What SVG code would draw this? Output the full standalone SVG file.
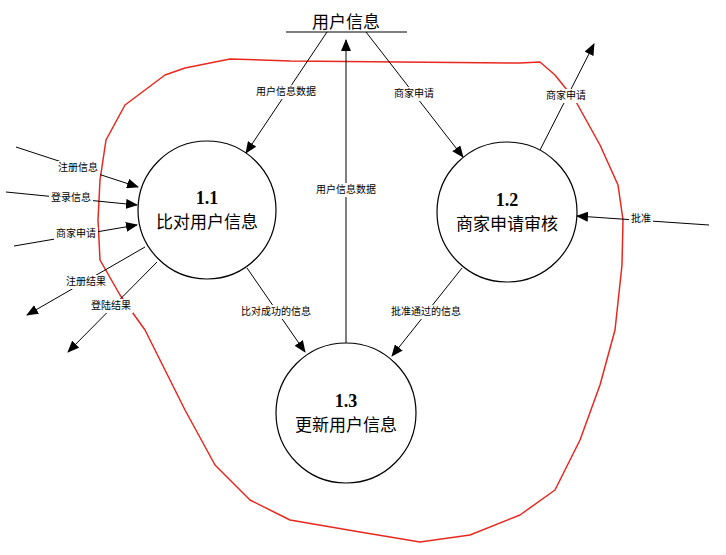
<svg xmlns="http://www.w3.org/2000/svg" width="726" height="555" viewBox="0 0 726 555">
<style>
.n{fill:#fff;stroke:#000;stroke-width:1.2}
.c line{stroke:#000;stroke-width:1}
.t{font-family:"Noto Sans CJK SC","Liberation Sans",sans-serif;font-size:17px;text-anchor:middle}
.id{font-family:"Liberation Serif",serif;font-weight:bold;font-size:18px;text-anchor:middle}
.l{font-family:"Noto Sans CJK SC",sans-serif;font-size:10px;text-anchor:middle;dominant-baseline:middle}
.lb{fill:#fff}
</style>
<defs><marker id="a" markerWidth="12" markerHeight="10" refX="11" refY="5" orient="auto" markerUnits="userSpaceOnUse"><path d="M0,0L12,5L0,10z"/></marker></defs>
<path d="M165,75 L185,68 L230,59 L290,61 L520,63 L540,62 L555,75 L575,100 L600,145 L618,185 L623,220 L622,265 L615,330 L600,385 L580,440 L555,490 L520,515 L470,535 L420,542 L360,532 L290,520 L250,500 L215,465 L185,410 L165,370 L145,330 L120,295 L100,260 L98,220 L100,180 L106,140 L125,105 Z" fill="none" stroke="#e8281e" stroke-width="1.5" stroke-linejoin="round"/>
<g id="store"><line x1="286" y1="32" x2="407" y2="32" stroke="#000"/><text x="346" y="28" class="t" font-size="15">用户信息</text></g>
<g class="c" id="connectors">
<line x1="327" y1="32" x2="246" y2="153" marker-end="url(#a)"/>
<line x1="366" y1="32" x2="463" y2="157" marker-end="url(#a)"/>
<line x1="346" y1="343" x2="346" y2="40" marker-end="url(#a)"/>
<line x1="540" y1="150" x2="594" y2="44" marker-end="url(#a)"/>
<line x1="709" y1="225" x2="577" y2="216" marker-end="url(#a)"/>
<line x1="247" y1="268" x2="305" y2="352" marker-end="url(#a)"/>
<line x1="462" y1="268" x2="392" y2="356" marker-end="url(#a)"/>
<line x1="16" y1="147" x2="138" y2="187" marker-end="url(#a)"/>
<line x1="6" y1="192" x2="137" y2="205" marker-end="url(#a)"/>
<line x1="14" y1="246" x2="137" y2="225" marker-end="url(#a)"/>
<line x1="145" y1="247" x2="27" y2="315" marker-end="url(#a)"/>
<line x1="157" y1="262" x2="68" y2="352" marker-end="url(#a)"/>
<g>
<rect class="lb" x="253" y="85" width="66" height="14"/><text class="l" x="286" y="92">用户信息数据</text>
<rect class="lb" x="392" y="87" width="44" height="14"/><text class="l" x="414" y="94">商家申请</text>
<rect class="lb" x="313" y="183" width="66" height="14"/><text class="l" x="346" y="190">用户信息数据</text>
<rect class="lb" x="544" y="89" width="44" height="14"/><text class="l" x="566" y="96">商家申请</text>
<rect class="lb" x="629" y="212" width="24" height="14"/><text class="l" x="641" y="219">批准</text>
<rect class="lb" x="237" y="305" width="78" height="14"/><text class="l" x="276" y="312">比对成功的信息</text>
<rect class="lb" x="387" y="305" width="78" height="14"/><text class="l" x="426" y="312">批准通过的信息</text>
<rect class="lb" x="56" y="161" width="44" height="14"/><text class="l" x="78" y="168">注册信息</text>
<rect class="lb" x="49" y="191" width="44" height="14"/><text class="l" x="71" y="198">登录信息</text>
<rect class="lb" x="54" y="227" width="44" height="14"/><text class="l" x="76" y="234">商家申请</text>
<rect class="lb" x="64" y="275" width="44" height="14"/><text class="l" x="86" y="282">注册结果</text>
<rect class="lb" x="89" y="299" width="44" height="14"/><text class="l" x="111" y="306">登陆结果</text>
</g>
</g>
<g id="p11"><circle class="n" cx="207" cy="210" r="69"/><text class="id" x="207" y="204">1.1</text><text class="t" x="207" y="228">比对用户信息</text></g>
<g id="p12"><circle class="n" cx="507" cy="212" r="70"/><text class="id" x="507" y="206">1.2</text><text class="t" x="507" y="230">商家申请审核</text></g>
<g id="p13"><circle class="n" cx="346" cy="413" r="70"/><text class="id" x="346" y="407">1.3</text><text class="t" x="346" y="431">更新用户信息</text></g>
</svg>
